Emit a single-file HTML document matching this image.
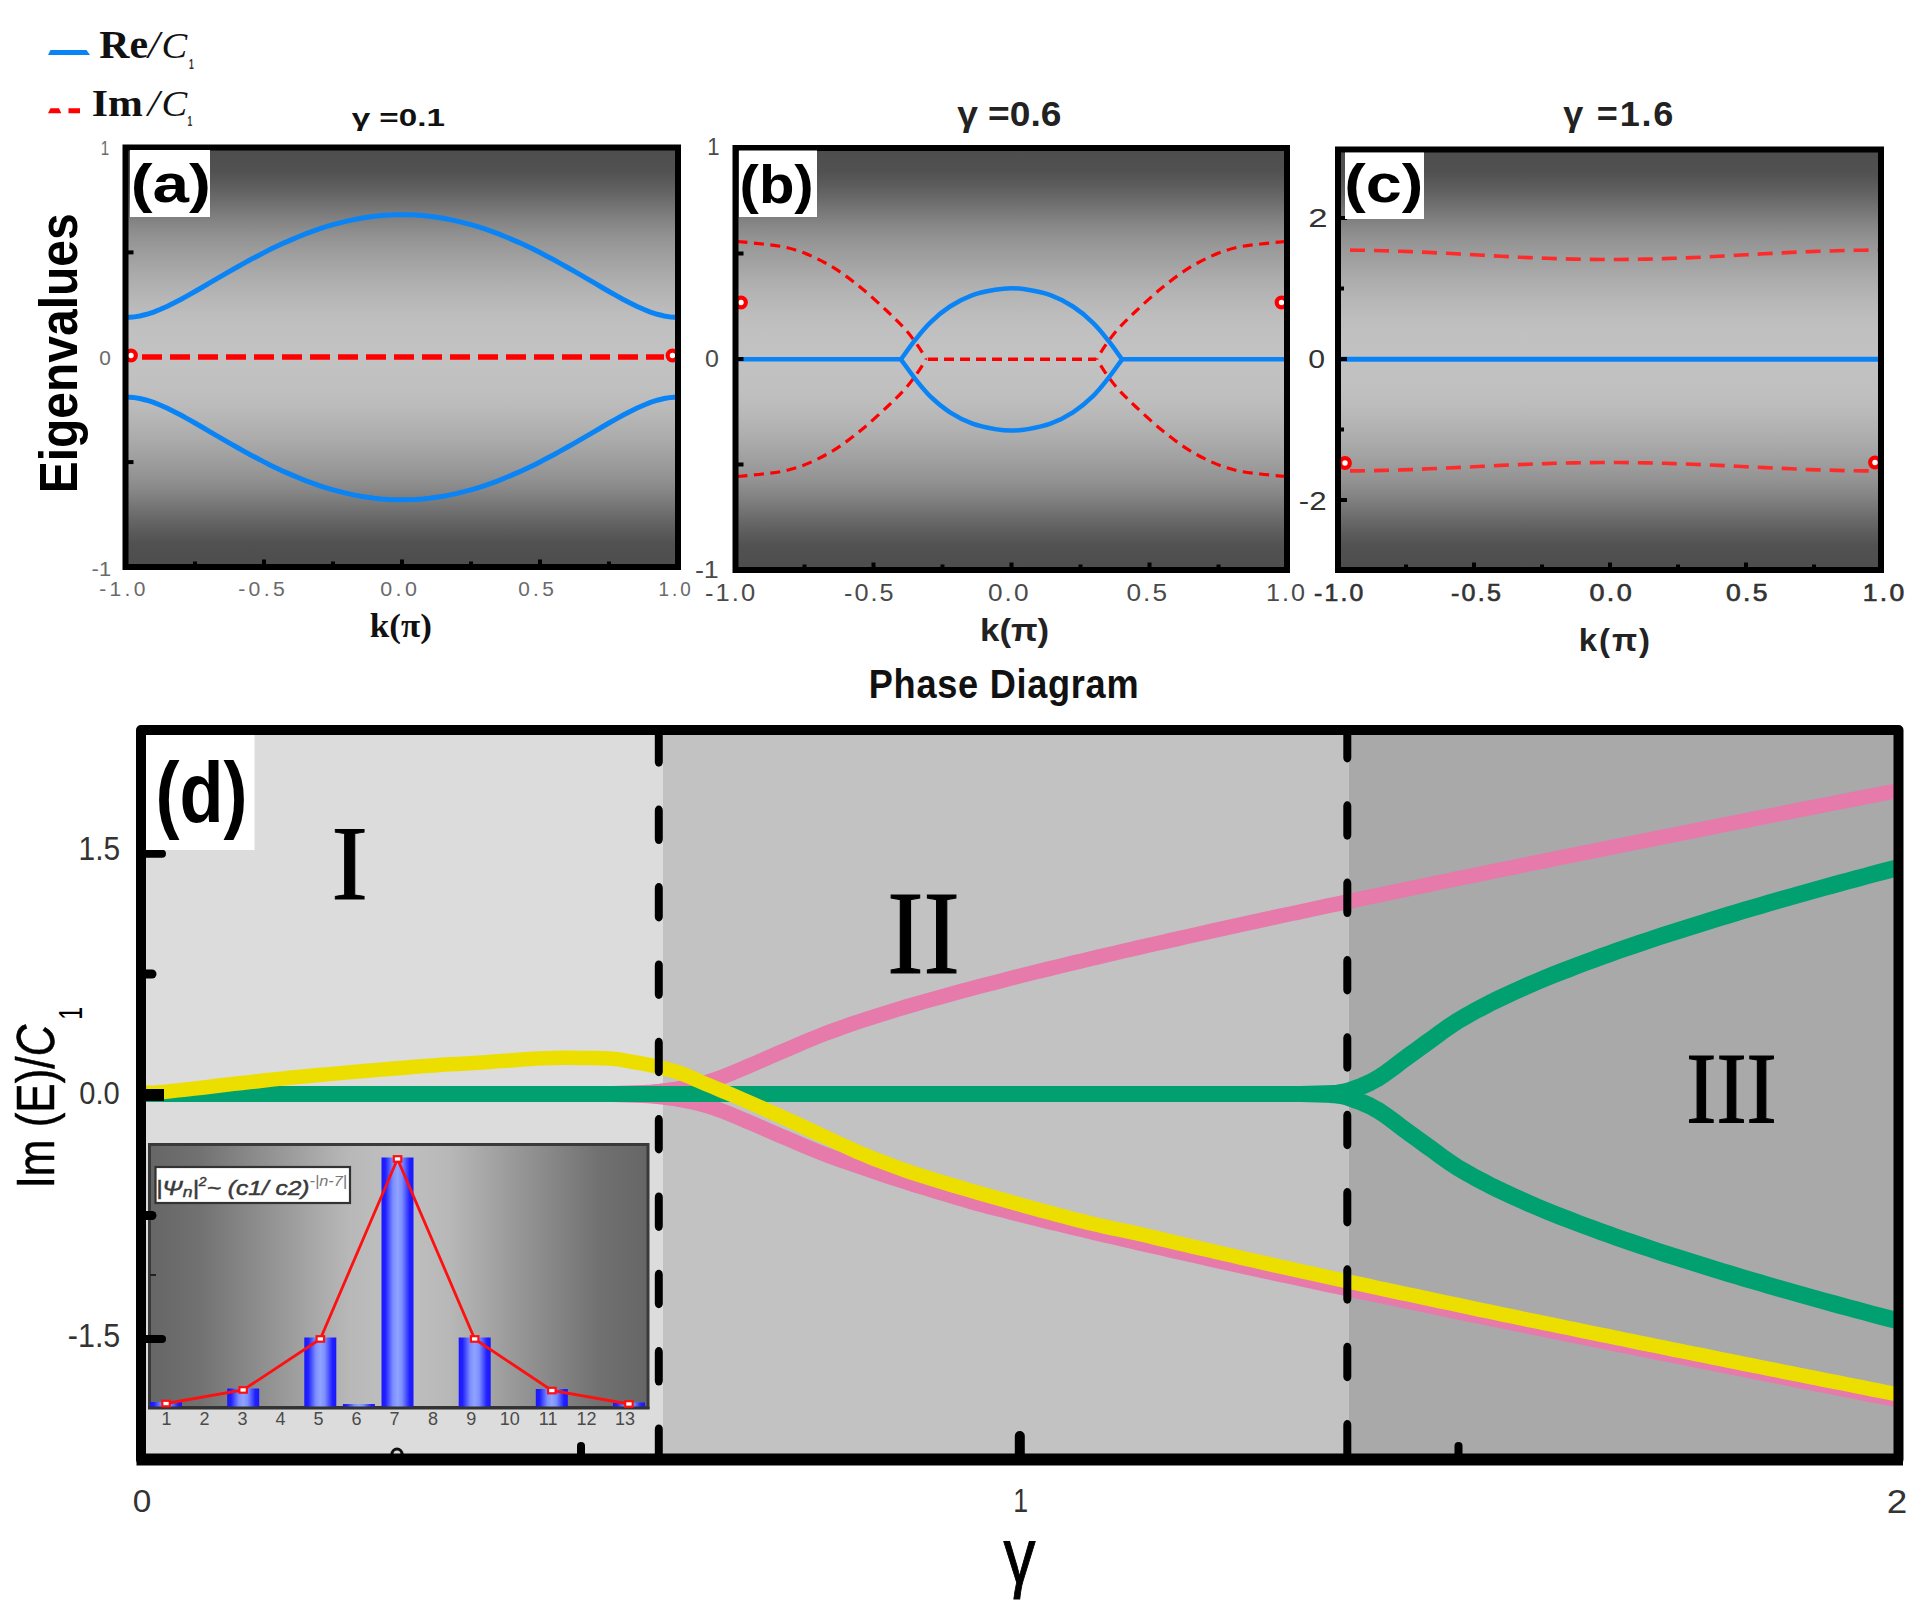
<!DOCTYPE html>
<html lang="en"><head><meta charset="utf-8"><title>Eigenvalues and Phase Diagram</title>
<style>html,body{margin:0;padding:0;background:#fff;}body{width:1928px;height:1615px;overflow:hidden;}svg{display:block;}</style></head><body>
<svg width="1928" height="1615" viewBox="0 0 1928 1615">
<defs>
<linearGradient id="gv" x1="0" y1="0" x2="0" y2="1"><stop offset="0" stop-color="#4d4d4d"/><stop offset="0.056" stop-color="#515151"/><stop offset="0.0875" stop-color="#5c5c5c"/><stop offset="0.1186" stop-color="#696969"/><stop offset="0.15" stop-color="#787878"/><stop offset="0.181" stop-color="#868686"/><stop offset="0.212" stop-color="#929292"/><stop offset="0.243" stop-color="#9b9b9b"/><stop offset="0.274" stop-color="#a3a3a3"/><stop offset="0.305" stop-color="#ababab"/><stop offset="0.3366" stop-color="#b2b2b2"/><stop offset="0.368" stop-color="#b8b8b8"/><stop offset="0.399" stop-color="#bdbdbd"/><stop offset="0.43" stop-color="#c0c0c0"/><stop offset="0.461" stop-color="#c1c1c1"/><stop offset="0.5" stop-color="#c2c2c2"/><stop offset="0.539" stop-color="#c1c1c1"/><stop offset="0.57" stop-color="#c0c0c0"/><stop offset="0.601" stop-color="#bdbdbd"/><stop offset="0.632" stop-color="#b8b8b8"/><stop offset="0.6634" stop-color="#b2b2b2"/><stop offset="0.695" stop-color="#ababab"/><stop offset="0.726" stop-color="#a3a3a3"/><stop offset="0.757" stop-color="#9b9b9b"/><stop offset="0.788" stop-color="#929292"/><stop offset="0.819" stop-color="#868686"/><stop offset="0.85" stop-color="#787878"/><stop offset="0.8814" stop-color="#696969"/><stop offset="0.9125" stop-color="#5c5c5c"/><stop offset="0.944" stop-color="#515151"/><stop offset="1" stop-color="#4d4d4d"/></linearGradient>
<linearGradient id="gh" x1="0" y1="0" x2="1" y2="0"><stop offset="0" stop-color="#666"/><stop offset="0.1" stop-color="#717171"/><stop offset="0.4" stop-color="#b8b8b8"/><stop offset="0.5" stop-color="#c0c0c0"/><stop offset="0.6" stop-color="#b8b8b8"/><stop offset="0.9" stop-color="#717171"/><stop offset="1" stop-color="#666"/></linearGradient>
<linearGradient id="gb" x1="0" y1="0" x2="1" y2="0"><stop offset="0" stop-color="#1818ff"/><stop offset="0.12" stop-color="#2020ff"/><stop offset="0.36" stop-color="#7c8fff"/><stop offset="0.5" stop-color="#90a3ff"/><stop offset="0.64" stop-color="#7c8fff"/><stop offset="0.88" stop-color="#2020ff"/><stop offset="1" stop-color="#1818ff"/></linearGradient>
</defs>
<rect width="1928" height="1615" fill="#fff"/>
<path d="M48 55 L50.5 50 H86.5 L90 55 Z" fill="#0a84f5"/>
<path d="M48 113.3 L50.5 108.3 H59 L61.3 113.3 Z M68.5 108.3 H80 V113.3 H68.5 Z" fill="#ff0000"/>
<text transform="translate(99.16 58.00) scale(1.0467 1)" font-family='"Liberation Serif", "Times New Roman", serif' font-size="40.00" font-weight="bold" font-style="normal" fill="#111" >Re<tspan font-style="italic" font-weight="normal">/</tspan><tspan font-style="italic" font-weight="normal" dx="0.05em" font-size="92%">C</tspan></text>
<text transform="translate(188.99 69.00) scale(0.5872 1)" font-family='"Liberation Sans", Arial, sans-serif' font-size="14.49" font-weight="bold" font-style="normal" fill="#333" >1</text>
<text transform="translate(91.75 116.11) scale(1.0822 1)" font-family='"Liberation Serif", "Times New Roman", serif' font-size="38.64" font-weight="bold" font-style="normal" fill="#111" >Im<tspan dx="0.12em" font-style="italic" font-weight="normal">/</tspan><tspan font-style="italic" font-weight="normal" dx="0.05em" font-size="92%">C</tspan></text>
<text transform="translate(187.49 126.00) scale(0.5872 1)" font-family='"Liberation Sans", Arial, sans-serif' font-size="14.49" font-weight="bold" font-style="normal" fill="#333" >1</text>
<g>
<rect x="125.5" y="147.5" width="552.5" height="419.5" fill="url(#gv)"/>
<path d="M126 317.5 L132.9 317.1 L139.8 316 L146.7 314.3 L153.6 312.1 L160.5 309.3 L167.4 306.2 L174.3 302.8 L181.2 299.2 L188.1 295.4 L195 291.5 L201.9 287.5 L208.8 283.4 L215.7 279.4 L222.6 275.4 L229.5 271.4 L236.4 267.5 L243.3 263.6 L250.2 259.8 L257.1 256.2 L264 252.6 L270.9 249.1 L277.8 245.8 L284.7 242.6 L291.6 239.6 L298.5 236.7 L305.4 233.9 L312.3 231.3 L319.2 228.9 L326.1 226.7 L333 224.7 L339.9 222.8 L346.8 221.1 L353.7 219.6 L360.6 218.3 L367.5 217.2 L374.4 216.3 L381.3 215.6 L388.2 215.1 L395.1 214.8 L402 214.7 L408.9 214.8 L415.8 215.1 L422.7 215.6 L429.6 216.3 L436.5 217.2 L443.4 218.3 L450.3 219.6 L457.2 221.1 L464.1 222.8 L471 224.7 L477.9 226.7 L484.8 228.9 L491.7 231.3 L498.6 233.9 L505.5 236.7 L512.4 239.6 L519.3 242.6 L526.2 245.8 L533.1 249.1 L540 252.6 L546.9 256.2 L553.8 259.8 L560.7 263.6 L567.6 267.5 L574.5 271.4 L581.4 275.4 L588.3 279.4 L595.2 283.4 L602.1 287.5 L609 291.5 L615.9 295.4 L622.8 299.2 L629.7 302.8 L636.6 306.2 L643.5 309.3 L650.4 312.1 L657.3 314.3 L664.2 316 L671.1 317.1 L678 317.5" fill="none" stroke="#0a84f5" stroke-width="5"/>
<path d="M126 397 L132.9 397.4 L139.8 398.5 L146.7 400.2 L153.6 402.4 L160.5 405.2 L167.4 408.3 L174.3 411.7 L181.2 415.3 L188.1 419.1 L195 423 L201.9 427 L208.8 431.1 L215.7 435.1 L222.6 439.1 L229.5 443.1 L236.4 447 L243.3 450.9 L250.2 454.7 L257.1 458.3 L264 461.9 L270.9 465.4 L277.8 468.7 L284.7 471.9 L291.6 474.9 L298.5 477.8 L305.4 480.6 L312.3 483.2 L319.2 485.6 L326.1 487.8 L333 489.8 L339.9 491.7 L346.8 493.4 L353.7 494.9 L360.6 496.2 L367.5 497.3 L374.4 498.2 L381.3 498.9 L388.2 499.4 L395.1 499.7 L402 499.8 L408.9 499.7 L415.8 499.4 L422.7 498.9 L429.6 498.2 L436.5 497.3 L443.4 496.2 L450.3 494.9 L457.2 493.4 L464.1 491.7 L471 489.8 L477.9 487.8 L484.8 485.6 L491.7 483.2 L498.6 480.6 L505.5 477.8 L512.4 474.9 L519.3 471.9 L526.2 468.7 L533.1 465.4 L540 461.9 L546.9 458.3 L553.8 454.7 L560.7 450.9 L567.6 447 L574.5 443.1 L581.4 439.1 L588.3 435.1 L595.2 431.1 L602.1 427 L609 423 L615.9 419.1 L622.8 415.3 L629.7 411.7 L636.6 408.3 L643.5 405.2 L650.4 402.4 L657.3 400.2 L664.2 398.5 L671.1 397.4 L678 397" fill="none" stroke="#0a84f5" stroke-width="5"/>
<line x1="142" y1="357" x2="664" y2="357" stroke="#ff0000" stroke-width="5.5" stroke-dasharray="20 8"/>
<circle cx="131" cy="355.5" r="4.8" fill="#fff" stroke="#ff0000" stroke-width="4.2"/>
<circle cx="672.5" cy="355.5" r="4.8" fill="#fff" stroke="#ff0000" stroke-width="4.2"/>
<line x1="195" y1="567" x2="195" y2="561.5" stroke="#000" stroke-width="4"/>
<line x1="264" y1="567" x2="264" y2="559.5" stroke="#000" stroke-width="4"/>
<line x1="333" y1="567" x2="333" y2="561.5" stroke="#000" stroke-width="4"/>
<line x1="402" y1="567" x2="402" y2="559.5" stroke="#000" stroke-width="4"/>
<line x1="471" y1="567" x2="471" y2="561.5" stroke="#000" stroke-width="4"/>
<line x1="540" y1="567" x2="540" y2="559.5" stroke="#000" stroke-width="4"/>
<line x1="609" y1="567" x2="609" y2="561.5" stroke="#000" stroke-width="4"/>
<line x1="125.5" y1="462.1" x2="133.5" y2="462.1" stroke="#000" stroke-width="4"/>
<line x1="125.5" y1="252.4" x2="133.5" y2="252.4" stroke="#000" stroke-width="4"/>
<rect x="125.5" y="147.5" width="552.5" height="419.5" fill="none" stroke="#000" stroke-width="6"/>
<rect x="130" y="150" width="80" height="67" fill="#fff"/>
<text transform="translate(130.72 202.11) scale(1.2096 1)" font-family='"Liberation Sans", Arial, sans-serif' font-size="54.26" font-weight="bold" font-style="normal" fill="#000" >(a)</text>
</g>
<text transform="translate(100.79 155.00) scale(0.7450 1)" font-family='"Liberation Sans", Arial, sans-serif' font-size="20.29" font-weight="normal" font-style="normal" fill="#6a6a6a" >1</text>
<text transform="translate(99.17 364.80) scale(1.0565 1)" font-family='"Liberation Sans", Arial, sans-serif' font-size="19.72" font-weight="normal" font-style="normal" fill="#6a6a6a" >0</text>
<text transform="translate(91.62 575.50) scale(1.0781 1)" font-family='"Liberation Sans", Arial, sans-serif' font-size="20.29" font-weight="normal" font-style="normal" fill="#6a6a6a" >-1</text>
<text transform="translate(99.16 595.80) scale(1.0278 1)" font-family='"Liberation Sans", Arial, sans-serif' font-size="20.42" font-weight="normal" font-style="normal" fill="#6a6a6a" letter-spacing="0.16em">-1.0</text>
<text transform="translate(238.15 595.80) scale(1.0394 1)" font-family='"Liberation Sans", Arial, sans-serif' font-size="20.42" font-weight="normal" font-style="normal" fill="#6a6a6a" letter-spacing="0.16em">-0.5</text>
<text transform="translate(380.14 595.80) scale(1.0514 1)" font-family='"Liberation Sans", Arial, sans-serif' font-size="20.42" font-weight="normal" font-style="normal" fill="#6a6a6a" letter-spacing="0.16em">0.0</text>
<text transform="translate(518.17 595.80) scale(1.0214 1)" font-family='"Liberation Sans", Arial, sans-serif' font-size="20.42" font-weight="normal" font-style="normal" fill="#6a6a6a" letter-spacing="0.16em">0.5</text>
<text transform="translate(658.49 595.80) scale(0.9239 1)" font-family='"Liberation Sans", Arial, sans-serif' font-size="20.42" font-weight="normal" font-style="normal" fill="#6a6a6a" letter-spacing="0.16em">1.0</text>
<text transform="translate(351.67 125.77) scale(1.4292 1)" font-family='"Liberation Sans", Arial, sans-serif' font-size="23.24" font-weight="bold" font-style="normal" fill="#111" >γ =0.1</text>
<text transform="translate(369.80 637.00) scale(1.0302 1)" font-family='"Liberation Serif", "Times New Roman", serif' font-size="34.06" font-weight="bold" font-style="normal" fill="#111" >k(π)</text>
<text transform="translate(76.50 493.36) rotate(-90) scale(0.9073 1)" font-family='"Liberation Sans", Arial, sans-serif' font-size="52.90" font-weight="bold" font-style="normal" fill="#000" >Eigenvalues</text>
<g>
<rect x="735.5" y="148" width="551.5" height="422" fill="url(#gv)"/>
<path d="M737.5 241.5 C741.7 241.9 754.2 243 762.5 244 C770.8 245 779.2 245.7 787.5 247.8 C795.8 249.8 804.2 252.8 812.5 256.5 C820.8 260.2 829.2 264.8 837.5 270.2 C845.8 275.7 854.2 282.1 862.5 289 C870.8 295.9 880.4 304.8 887.5 311.5 C894.6 318.2 900 323.4 905 329 C910 334.6 914 340.2 917.5 345.2 C921 350.2 924.8 356.7 926.2 359" fill="none" stroke="#ff0000" stroke-width="3.2" stroke-dasharray="10 6.5"/>
<path d="M737.5 476.5 C741.7 476.1 754.2 475 762.5 474 C770.8 473 779.2 472.3 787.5 470.2 C795.8 468.2 804.2 465.2 812.5 461.5 C820.8 457.8 829.2 453.2 837.5 447.8 C845.8 442.3 854.2 435.9 862.5 429 C870.8 422.1 880.4 413.2 887.5 406.5 C894.6 399.8 900 394.6 905 389 C910 383.4 914 377.8 917.5 372.8 C921 367.8 924.8 361.3 926.2 359" fill="none" stroke="#ff0000" stroke-width="3.2" stroke-dasharray="10 6.5"/>
<path d="M1285.5 241.5 C1281.3 241.9 1268.8 243 1260.5 244 C1252.2 245 1243.8 245.7 1235.5 247.8 C1227.2 249.8 1218.8 252.8 1210.5 256.5 C1202.2 260.2 1193.8 264.8 1185.5 270.2 C1177.2 275.7 1168.8 282.1 1160.5 289 C1152.2 295.9 1142.6 304.8 1135.5 311.5 C1128.4 318.2 1123 323.4 1118 329 C1113 334.6 1109 340.2 1105.5 345.2 C1102 350.2 1098.2 356.7 1096.8 359" fill="none" stroke="#ff0000" stroke-width="3.2" stroke-dasharray="10 6.5"/>
<path d="M1285.5 476.5 C1281.3 476.1 1268.8 475 1260.5 474 C1252.2 473 1243.8 472.3 1235.5 470.2 C1227.2 468.2 1218.8 465.2 1210.5 461.5 C1202.2 457.8 1193.8 453.2 1185.5 447.8 C1177.2 442.3 1168.8 435.9 1160.5 429 C1152.2 422.1 1142.6 413.2 1135.5 406.5 C1128.4 399.8 1123 394.6 1118 389 C1113 383.4 1109 377.8 1105.5 372.8 C1102 367.8 1098.2 361.3 1096.8 359" fill="none" stroke="#ff0000" stroke-width="3.2" stroke-dasharray="10 6.5"/>
<line x1="928" y1="359.3" x2="1096" y2="359.3" stroke="#ff0000" stroke-width="3.6" stroke-dasharray="10 6"/>
<path d="M735.5 359.3 L902 359.3" stroke="#0a84f5" stroke-width="4.5" fill="none"/>
<path d="M1121 359.3 L1287 359.3" stroke="#0a84f5" stroke-width="4.5" fill="none"/>
<path d="M901.2 359 C903.5 355.9 910.2 346.3 915 340.2 C919.8 334.2 924.2 328.4 930 322.8 C935.8 317.1 942.9 311.1 950 306.5 C957.1 301.9 965 298 972.5 295.2 C980 292.5 988.5 290.9 995 289.8 C1001.5 288.6 1006 288.2 1011.5 288.2 C1017 288.2 1021.5 288.6 1028 289.8 C1034.5 290.9 1043 292.5 1050.5 295.2 C1058 298 1065.9 301.9 1073 306.5 C1080.1 311.1 1087.2 317.1 1093 322.8 C1098.8 328.4 1103.2 334.2 1108 340.2 C1112.8 346.3 1119.5 355.9 1121.8 359" fill="none" stroke="#0a84f5" stroke-width="4.5" stroke-linejoin="round"/>
<path d="M901.2 359.8 C903.5 362.9 910.2 372.5 915 378.6 C919.8 384.6 924.2 390.4 930 396.1 C935.8 401.7 942.9 407.7 950 412.3 C957.1 416.9 965 420.8 972.5 423.6 C980 426.3 988.5 427.9 995 429.1 C1001.5 430.2 1006 430.6 1011.5 430.6 C1017 430.6 1021.5 430.2 1028 429.1 C1034.5 427.9 1043 426.3 1050.5 423.6 C1058 420.8 1065.9 416.9 1073 412.3 C1080.1 407.7 1087.2 401.7 1093 396.1 C1098.8 390.4 1103.2 384.6 1108 378.6 C1112.8 372.5 1119.5 362.9 1121.8 359.8" fill="none" stroke="#0a84f5" stroke-width="4.5" stroke-linejoin="round"/>
<circle cx="741" cy="302.5" r="4.8" fill="#fff" stroke="#ff0000" stroke-width="4.2"/>
<circle cx="1281.5" cy="302.5" r="4.8" fill="#fff" stroke="#ff0000" stroke-width="4.2"/>
<line x1="804.5" y1="570" x2="804.5" y2="564.5" stroke="#000" stroke-width="4"/>
<line x1="873.5" y1="570" x2="873.5" y2="562.5" stroke="#000" stroke-width="4"/>
<line x1="942.5" y1="570" x2="942.5" y2="564.5" stroke="#000" stroke-width="4"/>
<line x1="1011.5" y1="570" x2="1011.5" y2="562.5" stroke="#000" stroke-width="4"/>
<line x1="1080.5" y1="570" x2="1080.5" y2="564.5" stroke="#000" stroke-width="4"/>
<line x1="1149.5" y1="570" x2="1149.5" y2="562.5" stroke="#000" stroke-width="4"/>
<line x1="1218.5" y1="570" x2="1218.5" y2="564.5" stroke="#000" stroke-width="4"/>
<line x1="735.5" y1="464.5" x2="743.5" y2="464.5" stroke="#000" stroke-width="4"/>
<line x1="735.5" y1="359" x2="743.5" y2="359" stroke="#000" stroke-width="4"/>
<line x1="735.5" y1="253.5" x2="743.5" y2="253.5" stroke="#000" stroke-width="4"/>
<rect x="735.5" y="148" width="551.5" height="422" fill="none" stroke="#000" stroke-width="6"/>
<rect x="739" y="150.5" width="78" height="66.5" fill="#fff"/>
<text transform="translate(739.60 202.58) scale(1.0914 1)" font-family='"Liberation Sans", Arial, sans-serif' font-size="53.19" font-weight="bold" font-style="normal" fill="#000" >(b)</text>
</g>
<text transform="translate(707.23 155.00) scale(0.9528 1)" font-family='"Liberation Sans", Arial, sans-serif' font-size="23.19" font-weight="normal" font-style="normal" fill="#4a4a4a" >1</text>
<text transform="translate(705.00 367.27) scale(1.0758 1)" font-family='"Liberation Sans", Arial, sans-serif' font-size="23.24" font-weight="normal" font-style="normal" fill="#4a4a4a" >0</text>
<text transform="translate(694.92 577.50) scale(1.1239 1)" font-family='"Liberation Sans", Arial, sans-serif' font-size="23.91" font-weight="normal" font-style="normal" fill="#4a4a4a" >-1</text>
<text transform="translate(704.98 600.76) scale(1.0663 1)" font-family='"Liberation Sans", Arial, sans-serif' font-size="23.94" font-weight="normal" font-style="normal" fill="#4a4a4a" letter-spacing="0.08em">-1.0</text>
<text transform="translate(843.99 600.76) scale(1.0552 1)" font-family='"Liberation Sans", Arial, sans-serif' font-size="23.94" font-weight="normal" font-style="normal" fill="#4a4a4a" letter-spacing="0.08em">-0.5</text>
<text transform="translate(987.95 600.76) scale(1.0938 1)" font-family='"Liberation Sans", Arial, sans-serif' font-size="23.94" font-weight="normal" font-style="normal" fill="#4a4a4a" letter-spacing="0.08em">0.0</text>
<text transform="translate(1126.45 600.76) scale(1.0938 1)" font-family='"Liberation Sans", Arial, sans-serif' font-size="23.94" font-weight="normal" font-style="normal" fill="#4a4a4a" letter-spacing="0.08em">0.5</text>
<text transform="translate(1265.99 600.76) scale(1.0514 1)" font-family='"Liberation Sans", Arial, sans-serif' font-size="23.94" font-weight="normal" font-style="normal" fill="#4a4a4a" letter-spacing="0.08em">1.0</text>
<text transform="translate(957.13 126.15) scale(1.0547 1)" font-family='"Liberation Sans", Arial, sans-serif' font-size="35.21" font-weight="bold" font-style="normal" fill="#222" >γ =0.6</text>
<text transform="translate(980.07 641.00) scale(1.0798 1)" font-family='"Liberation Sans", Arial, sans-serif' font-size="32.19" font-weight="bold" font-style="normal" fill="#222" >k(π)</text>
<g>
<rect x="1338" y="149.5" width="543" height="420.5" fill="url(#gv)"/>
<path d="M1338 250.1 L1347.1 250.1 L1356.1 250.2 L1365.2 250.3 L1374.3 250.5 L1383.3 250.7 L1392.4 251 L1401.5 251.3 L1410.5 251.6 L1419.6 252 L1428.7 252.4 L1437.7 252.9 L1446.8 253.3 L1455.9 253.8 L1464.9 254.3 L1474 254.8 L1483.1 255.3 L1492.1 255.8 L1501.2 256.3 L1510.3 256.7 L1519.3 257.2 L1528.4 257.6 L1537.5 258 L1546.5 258.3 L1555.6 258.6 L1564.7 258.9 L1573.7 259.1 L1582.8 259.3 L1591.9 259.4 L1600.9 259.5 L1610 259.5 L1619.1 259.5 L1628.1 259.4 L1637.2 259.3 L1646.3 259.1 L1655.3 258.9 L1664.4 258.6 L1673.5 258.3 L1682.5 258 L1691.6 257.6 L1700.7 257.2 L1709.7 256.7 L1718.8 256.3 L1727.9 255.8 L1736.9 255.3 L1746 254.8 L1755.1 254.3 L1764.1 253.8 L1773.2 253.3 L1782.3 252.9 L1791.3 252.4 L1800.4 252 L1809.5 251.6 L1818.5 251.3 L1827.6 251 L1836.7 250.7 L1845.7 250.5 L1854.8 250.3 L1863.9 250.2 L1872.9 250.1 L1882 250.1" fill="none" stroke="#ff2a2a" stroke-width="3.6" stroke-dasharray="15 9" stroke-dashoffset="-12"/>
<path d="M1338 471 L1347.1 470.9 L1356.1 470.9 L1365.2 470.7 L1374.3 470.6 L1383.3 470.4 L1392.4 470.1 L1401.5 469.9 L1410.5 469.6 L1419.6 469.2 L1428.7 468.8 L1437.7 468.4 L1446.8 468 L1455.9 467.6 L1464.9 467.2 L1474 466.7 L1483.1 466.3 L1492.1 465.8 L1501.2 465.4 L1510.3 465 L1519.3 464.6 L1528.4 464.2 L1537.5 463.9 L1546.5 463.6 L1555.6 463.3 L1564.7 463.1 L1573.7 462.9 L1582.8 462.7 L1591.9 462.6 L1600.9 462.5 L1610 462.5 L1619.1 462.5 L1628.1 462.6 L1637.2 462.7 L1646.3 462.9 L1655.3 463.1 L1664.4 463.3 L1673.5 463.6 L1682.5 463.9 L1691.6 464.2 L1700.7 464.6 L1709.7 465 L1718.8 465.4 L1727.9 465.8 L1736.9 466.3 L1746 466.7 L1755.1 467.2 L1764.1 467.6 L1773.2 468 L1782.3 468.4 L1791.3 468.8 L1800.4 469.2 L1809.5 469.6 L1818.5 469.9 L1827.6 470.1 L1836.7 470.4 L1845.7 470.6 L1854.8 470.7 L1863.9 470.9 L1872.9 470.9 L1882 471" fill="none" stroke="#ff2a2a" stroke-width="3.6" stroke-dasharray="15 9" stroke-dashoffset="-12"/>
<line x1="1338" y1="359.3" x2="1881" y2="359.3" stroke="#0a84f5" stroke-width="5"/>
<circle cx="1345" cy="463" r="4.8" fill="#fff" stroke="#ff0000" stroke-width="4.2"/>
<circle cx="1875" cy="462.5" r="4.8" fill="#fff" stroke="#ff0000" stroke-width="4.2"/>
<line x1="1406" y1="570" x2="1406" y2="564.5" stroke="#000" stroke-width="4"/>
<line x1="1474" y1="570" x2="1474" y2="562.5" stroke="#000" stroke-width="4"/>
<line x1="1542" y1="570" x2="1542" y2="564.5" stroke="#000" stroke-width="4"/>
<line x1="1610" y1="570" x2="1610" y2="562.5" stroke="#000" stroke-width="4"/>
<line x1="1678" y1="570" x2="1678" y2="564.5" stroke="#000" stroke-width="4"/>
<line x1="1746" y1="570" x2="1746" y2="562.5" stroke="#000" stroke-width="4"/>
<line x1="1814" y1="570" x2="1814" y2="564.5" stroke="#000" stroke-width="4"/>
<line x1="1338" y1="500" x2="1347" y2="500" stroke="#000" stroke-width="4"/>
<line x1="1338" y1="429.5" x2="1344" y2="429.5" stroke="#000" stroke-width="4"/>
<line x1="1338" y1="359" x2="1347" y2="359" stroke="#000" stroke-width="4"/>
<line x1="1338" y1="288.5" x2="1344" y2="288.5" stroke="#000" stroke-width="4"/>
<line x1="1338" y1="218" x2="1347" y2="218" stroke="#000" stroke-width="4"/>
<rect x="1338" y="149.5" width="543" height="420.5" fill="none" stroke="#000" stroke-width="6"/>
<rect x="1345" y="152.5" width="79" height="66.5" fill="#fff"/>
<text transform="translate(1344.26 201.72) scale(1.2049 1)" font-family='"Liberation Sans", Arial, sans-serif' font-size="53.72" font-weight="bold" font-style="normal" fill="#000" >(c)</text>
</g>
<text transform="translate(1308.26 227.00) scale(1.3527 1)" font-family='"Liberation Sans", Arial, sans-serif' font-size="25.71" font-weight="normal" font-style="normal" fill="#333" >2</text>
<text transform="translate(1308.29 367.75) scale(1.1916 1)" font-family='"Liberation Sans", Arial, sans-serif' font-size="25.35" font-weight="normal" font-style="normal" fill="#333" >0</text>
<text transform="translate(1298.75 509.50) scale(1.2153 1)" font-family='"Liberation Sans", Arial, sans-serif' font-size="25.71" font-weight="normal" font-style="normal" fill="#333" >-2</text>
<text transform="translate(1314.01 600.76) scale(1.0332 1)" font-family='"Liberation Sans", Arial, sans-serif' font-size="23.94" font-weight="normal" font-style="normal" fill="#333" letter-spacing="0.09em" stroke="#333" stroke-width="0.65">-1.0</text>
<text transform="translate(1451.00 600.76) scale(1.0441 1)" font-family='"Liberation Sans", Arial, sans-serif' font-size="23.94" font-weight="normal" font-style="normal" fill="#333" letter-spacing="0.09em" stroke="#333" stroke-width="0.65">-0.5</text>
<text transform="translate(1589.42 600.76) scale(1.1276 1)" font-family='"Liberation Sans", Arial, sans-serif' font-size="23.94" font-weight="normal" font-style="normal" fill="#333" letter-spacing="0.09em" stroke="#333" stroke-width="0.65">0.0</text>
<text transform="translate(1725.94 600.76) scale(1.1072 1)" font-family='"Liberation Sans", Arial, sans-serif' font-size="23.94" font-weight="normal" font-style="normal" fill="#333" letter-spacing="0.09em" stroke="#333" stroke-width="0.65">0.5</text>
<text transform="translate(1862.64 600.76) scale(1.1080 1)" font-family='"Liberation Sans", Arial, sans-serif' font-size="23.94" font-weight="normal" font-style="normal" fill="#333" letter-spacing="0.09em" stroke="#333" stroke-width="0.65">1.0</text>
<text transform="translate(1563.14 126.00) scale(1.0363 1)" font-family='"Liberation Sans", Arial, sans-serif' font-size="34.78" font-weight="bold" font-style="normal" fill="#222" letter-spacing="0.05em">γ =1.6</text>
<text transform="translate(1578.70 651.00) scale(1.0228 1)" font-family='"Liberation Sans", Arial, sans-serif' font-size="32.19" font-weight="bold" font-style="normal" fill="#222" letter-spacing="0.06em">k(π)</text>
<text transform="translate(868.77 697.89) scale(0.8881 1)" font-family='"Liberation Sans", Arial, sans-serif' font-size="40.71" font-weight="bold" font-style="normal" fill="#111" letter-spacing="0.02em">Phase Diagram</text>
<g>
<rect x="143" y="732" width="520" height="725" fill="#dcdcdc"/>
<rect x="663" y="732" width="685.5" height="725" fill="#c2c2c2"/>
<rect x="1348.5" y="732" width="548" height="725" fill="#a9a9a9"/>
<path d="M596 1094 L604 1093.8 L612 1093.5 L619.9 1093.3 L627.9 1093.1 L635.9 1092.8 L643.9 1092.4 L651.8 1091.9 L659.8 1091.2 L667.8 1090.3 L675.8 1089.2 L683.7 1087.7 L691.7 1086.1 L699.7 1084.2 L707.7 1081.9 L715.6 1079.4 L723.6 1076.5 L731.6 1073.3 L739.6 1069.9 L747.5 1066.5 L755.5 1063.1 L763.5 1059.6 L771.5 1056.2 L779.4 1052.7 L787.4 1049.3 L795.4 1045.8 L803.4 1042.4 L811.3 1039.1 L819.3 1035.9 L827.3 1032.8 L835.3 1029.9 L843.2 1027 L851.2 1024.2 L859.2 1021.5 L867.2 1018.9 L875.1 1016.3 L883.1 1013.8 L891.1 1011.3 L899.1 1008.9 L907 1006.5 L915 1004.2 L923 1001.9 L931 999.6 L938.9 997.4 L946.9 995.2 L954.9 993 L962.9 990.8 L970.8 988.7 L978.8 986.6 L986.8 984.5 L994.8 982.4 L1002.7 980.4 L1010.7 978.3 L1018.7 976.3 L1026.7 974.3 L1034.7 972.3 L1042.6 970.4 L1050.6 968.4 L1058.6 966.5 L1066.6 964.5 L1074.5 962.6 L1082.5 960.7 L1090.5 958.8 L1098.5 956.9 L1106.4 955 L1114.4 953.2 L1122.4 951.3 L1130.4 949.5 L1138.3 947.6 L1146.3 945.8 L1154.3 944 L1162.3 942.2 L1170.2 940.4 L1178.2 938.6 L1186.2 936.8 L1194.2 935 L1202.1 933.2 L1210.1 931.4 L1218.1 929.7 L1226.1 927.9 L1234 926.1 L1242 924.4 L1250 922.6 L1258 920.9 L1265.9 919.2 L1273.9 917.4 L1281.9 915.7 L1289.9 914 L1297.8 912.3 L1305.8 910.6 L1313.8 908.9 L1321.8 907.1 L1329.7 905.4 L1337.7 903.8 L1345.7 902.1 L1353.7 900.4 L1361.6 898.7 L1369.6 897 L1377.6 895.3 L1385.6 893.7 L1393.5 892 L1401.5 890.3 L1409.5 888.7 L1417.5 887 L1425.4 885.3 L1433.4 883.7 L1441.4 882 L1449.4 880.4 L1457.3 878.7 L1465.3 877.1 L1473.3 875.4 L1481.3 873.8 L1489.3 872.2 L1497.2 870.5 L1505.2 868.9 L1513.2 867.3 L1521.2 865.6 L1529.1 864 L1537.1 862.4 L1545.1 860.8 L1553.1 859.1 L1561 857.5 L1569 855.9 L1577 854.3 L1585 852.7 L1592.9 851.1 L1600.9 849.5 L1608.9 847.8 L1616.9 846.2 L1624.8 844.6 L1632.8 843 L1640.8 841.4 L1648.8 839.8 L1656.7 838.2 L1664.7 836.7 L1672.7 835.1 L1680.7 833.5 L1688.6 831.9 L1696.6 830.3 L1704.6 828.7 L1712.6 827.1 L1720.5 825.5 L1728.5 823.9 L1736.5 822.4 L1744.5 820.8 L1752.4 819.2 L1760.4 817.6 L1768.4 816 L1776.4 814.5 L1784.3 812.9 L1792.3 811.3 L1800.3 809.7 L1808.3 808.2 L1816.2 806.6 L1824.2 805 L1832.2 803.5 L1840.2 801.9 L1848.1 800.3 L1856.1 798.8 L1864.1 797.2 L1872.1 795.6 L1880 794.1 L1888 792.5 L1896 791" fill="none" stroke="#e57aab" stroke-width="15" stroke-linejoin="round"/>
<path d="M596 1094 L604 1094.2 L612 1094.5 L619.9 1094.7 L627.9 1094.9 L635.9 1095.2 L643.9 1095.6 L651.8 1096.1 L659.8 1096.8 L667.8 1097.7 L675.8 1098.8 L683.7 1100.3 L691.7 1101.9 L699.7 1103.8 L707.7 1106.1 L715.6 1108.6 L723.6 1111.5 L731.6 1114.7 L739.6 1118.1 L747.5 1121.5 L755.5 1124.9 L763.5 1128.4 L771.5 1131.8 L779.4 1135.3 L787.4 1138.7 L795.4 1142.2 L803.4 1145.6 L811.3 1148.9 L819.3 1152.1 L827.3 1155.2 L835.3 1158.1 L843.2 1161 L851.2 1163.7 L859.2 1166.5 L867.2 1169.2 L875.1 1172 L883.1 1174.7 L891.1 1177.3 L899.1 1179.9 L907 1182.5 L915 1185 L923 1187.4 L931 1189.9 L938.9 1192.3 L946.9 1194.6 L954.9 1197 L962.9 1199.4 L970.8 1201.7 L978.8 1203.9 L986.8 1206.1 L994.8 1208.1 L1002.7 1210.1 L1010.7 1212.2 L1018.7 1214.2 L1026.7 1216.2 L1034.7 1218.2 L1042.6 1220.1 L1050.6 1222.1 L1058.6 1224 L1066.6 1226 L1074.5 1227.9 L1082.5 1229.8 L1090.5 1231.7 L1098.5 1233.6 L1106.4 1235.5 L1114.4 1237.3 L1122.4 1239.2 L1130.4 1241 L1138.3 1242.9 L1146.3 1244.7 L1154.3 1246.5 L1162.3 1248.3 L1170.2 1250.1 L1178.2 1251.9 L1186.2 1253.7 L1194.2 1255.5 L1202.1 1257.3 L1210.1 1259.1 L1218.1 1260.8 L1226.1 1262.6 L1234 1264.4 L1242 1266.1 L1250 1267.9 L1258 1269.6 L1265.9 1271.3 L1273.9 1273.1 L1281.9 1274.8 L1289.9 1276.5 L1297.8 1278.2 L1305.8 1279.9 L1313.8 1281.6 L1321.8 1283.4 L1329.7 1285.1 L1337.7 1286.7 L1345.7 1288.4 L1353.7 1290.1 L1361.6 1291.8 L1369.6 1293.5 L1377.6 1295.2 L1385.6 1296.8 L1393.5 1298.5 L1401.5 1300.2 L1409.5 1301.8 L1417.5 1303.5 L1425.4 1305.2 L1433.4 1306.8 L1441.4 1308.5 L1449.4 1310.1 L1457.3 1311.8 L1465.3 1313.4 L1473.3 1315.1 L1481.3 1316.7 L1489.3 1318.3 L1497.2 1320 L1505.2 1321.6 L1513.2 1323.2 L1521.2 1324.9 L1529.1 1326.5 L1537.1 1328.1 L1545.1 1329.7 L1553.1 1331.4 L1561 1333 L1569 1334.6 L1577 1336.2 L1585 1337.8 L1592.9 1339.4 L1600.9 1341 L1608.9 1342.7 L1616.9 1344.3 L1624.8 1345.9 L1632.8 1347.5 L1640.8 1349.1 L1648.8 1350.7 L1656.7 1352.3 L1664.7 1353.8 L1672.7 1355.4 L1680.7 1357 L1688.6 1358.6 L1696.6 1360.2 L1704.6 1361.8 L1712.6 1363.4 L1720.5 1365 L1728.5 1366.6 L1736.5 1368.1 L1744.5 1369.7 L1752.4 1371.3 L1760.4 1372.9 L1768.4 1374.5 L1776.4 1376 L1784.3 1377.6 L1792.3 1379.2 L1800.3 1380.8 L1808.3 1382.3 L1816.2 1383.9 L1824.2 1385.5 L1832.2 1387 L1840.2 1388.6 L1848.1 1390.2 L1856.1 1391.7 L1864.1 1393.3 L1872.1 1394.9 L1880 1396.4 L1888 1398 L1896 1399.5" fill="none" stroke="#e57aab" stroke-width="15" stroke-linejoin="round"/>
<rect x="146" y="1086" width="1206" height="16" fill="#00a070"/>
<path d="M1300 1086 L1335 1085 L1352 1082 L1352 1106 L1335 1103 L1300 1102 Z" fill="#00a070"/>
<path d="M1330 1094.1 L1338 1093.5 L1345.9 1092 L1353.9 1089.1 L1361.9 1086.1 L1369.9 1082.6 L1377.8 1078.3 L1385.8 1073 L1393.8 1067.1 L1401.7 1061.1 L1409.7 1055.1 L1417.7 1049.3 L1425.7 1043.5 L1433.6 1037.8 L1441.6 1031.9 L1449.6 1026.3 L1457.5 1021 L1465.5 1016.3 L1473.5 1011.8 L1481.5 1007.6 L1489.4 1003.4 L1497.4 999.5 L1505.4 995.7 L1513.4 992 L1521.3 988.4 L1529.3 984.9 L1537.3 981.5 L1545.2 978.2 L1553.2 974.9 L1561.2 971.8 L1569.2 968.7 L1577.1 965.6 L1585.1 962.6 L1593.1 959.7 L1601 956.8 L1609 953.9 L1617 951.1 L1625 948.3 L1632.9 945.6 L1640.9 942.9 L1648.9 940.2 L1656.8 937.5 L1664.8 934.9 L1672.8 932.4 L1680.8 929.8 L1688.7 927.3 L1696.7 924.8 L1704.7 922.3 L1712.6 919.8 L1720.6 917.4 L1728.6 915 L1736.6 912.6 L1744.5 910.2 L1752.5 907.9 L1760.5 905.6 L1768.5 903.2 L1776.4 900.9 L1784.4 898.6 L1792.4 896.4 L1800.3 894.1 L1808.3 891.9 L1816.3 889.6 L1824.3 887.4 L1832.2 885.2 L1840.2 883 L1848.2 880.9 L1856.1 878.7 L1864.1 876.6 L1872.1 874.4 L1880.1 872.3 L1888 870.2 L1896 868.1" fill="none" stroke="#00a070" stroke-width="17" stroke-linejoin="round"/>
<path d="M1330 1094.4 L1338 1095 L1345.9 1096.5 L1353.9 1099.4 L1361.9 1102.4 L1369.9 1105.9 L1377.8 1110.2 L1385.8 1115.5 L1393.8 1121.4 L1401.7 1127.4 L1409.7 1133.4 L1417.7 1139.2 L1425.7 1145 L1433.6 1150.7 L1441.6 1156.6 L1449.6 1162.2 L1457.5 1167.5 L1465.5 1172.2 L1473.5 1176.7 L1481.5 1180.9 L1489.4 1185.1 L1497.4 1189 L1505.4 1192.8 L1513.4 1196.5 L1521.3 1200.1 L1529.3 1203.6 L1537.3 1207 L1545.2 1210.3 L1553.2 1213.6 L1561.2 1216.7 L1569.2 1219.8 L1577.1 1222.9 L1585.1 1225.9 L1593.1 1228.8 L1601 1231.7 L1609 1234.6 L1617 1237.4 L1625 1240.2 L1632.9 1242.9 L1640.9 1245.6 L1648.9 1248.3 L1656.8 1251 L1664.8 1253.6 L1672.8 1256.1 L1680.8 1258.7 L1688.7 1261.2 L1696.7 1263.7 L1704.7 1266.2 L1712.6 1268.7 L1720.6 1271.1 L1728.6 1273.5 L1736.6 1275.9 L1744.5 1278.3 L1752.5 1280.6 L1760.5 1282.9 L1768.5 1285.3 L1776.4 1287.6 L1784.4 1289.9 L1792.4 1292.1 L1800.3 1294.4 L1808.3 1296.6 L1816.3 1298.9 L1824.3 1301.1 L1832.2 1303.3 L1840.2 1305.5 L1848.2 1307.6 L1856.1 1309.8 L1864.1 1311.9 L1872.1 1314.1 L1880.1 1316.2 L1888 1318.3 L1896 1320.4" fill="none" stroke="#00a070" stroke-width="17" stroke-linejoin="round"/>
<path d="M146 1092.5 L154 1092.7 L162 1092.1 L170 1091.3 L178 1090.4 L186 1089.5 L193.9 1088.6 L201.9 1087.7 L209.9 1086.7 L217.9 1085.8 L225.9 1084.8 L233.9 1083.9 L241.9 1083 L249.9 1082.1 L257.9 1081.2 L265.9 1080.3 L273.9 1079.4 L281.8 1078.6 L289.8 1077.8 L297.8 1077 L305.8 1076.3 L313.8 1075.5 L321.8 1074.8 L329.8 1074.1 L337.8 1073.4 L345.8 1072.6 L353.8 1071.9 L361.8 1071.2 L369.7 1070.6 L377.7 1069.9 L385.7 1069.2 L393.7 1068.5 L401.7 1067.9 L409.7 1067.2 L417.7 1066.6 L425.7 1065.9 L433.7 1065.4 L441.7 1064.8 L449.7 1064.3 L457.6 1063.9 L465.6 1063.5 L473.6 1063 L481.6 1062.5 L489.6 1061.9 L497.6 1061.3 L505.6 1060.8 L513.6 1060.2 L521.6 1059.6 L529.6 1059.1 L537.6 1058.6 L545.5 1058.2 L553.5 1057.9 L561.5 1057.7 L569.5 1057.8 L577.5 1057.9 L585.5 1058 L593.5 1058.1 L601.5 1058.2 L609.5 1058.5 L617.5 1059.2 L625.5 1060.7 L633.4 1062 L641.4 1063.4 L649.4 1064.9 L657.4 1066.7 L665.4 1068.7 L673.4 1070.9 L681.4 1073.5 L689.4 1076.7 L697.4 1080.4 L705.4 1083.8 L713.4 1087.1 L721.3 1090.5 L729.3 1093.8 L737.3 1097.2 L745.3 1100.6 L753.3 1104.1 L761.3 1107.7 L769.3 1111.3 L777.3 1114.9 L785.3 1118.5 L793.3 1122.2 L801.3 1125.9 L809.2 1129.6 L817.2 1133.3 L825.2 1137 L833.2 1140.8 L841.2 1144.5 L849.2 1148.2 L857.2 1151.8 L865.2 1155.2 L873.2 1158.5 L881.2 1161.6 L889.2 1164.5 L897.1 1167.5 L905.1 1170.3 L913.1 1173.1 L921.1 1175.7 L929.1 1178.2 L937.1 1180.7 L945.1 1183.1 L953.1 1185.5 L961.1 1187.8 L969.1 1190.1 L977.1 1192.5 L985 1194.8 L993 1197 L1001 1199.3 L1009 1201.5 L1017 1203.7 L1025 1206 L1033 1208.2 L1041 1210.4 L1049 1212.5 L1057 1214.7 L1064.9 1216.8 L1072.9 1218.9 L1080.9 1220.9 L1088.9 1222.9 L1096.9 1224.8 L1104.9 1226.6 L1112.9 1228.4 L1120.9 1230 L1128.9 1231.7 L1136.9 1233.4 L1144.9 1235.2 L1152.8 1237.1 L1160.8 1239.1 L1168.8 1241 L1176.8 1242.9 L1184.8 1244.8 L1192.8 1246.6 L1200.8 1248.5 L1208.8 1250.3 L1216.8 1252.2 L1224.8 1254 L1232.8 1255.8 L1240.7 1257.7 L1248.7 1259.5 L1256.7 1261.3 L1264.7 1263.1 L1272.7 1264.9 L1280.7 1266.7 L1288.7 1268.4 L1296.7 1270.2 L1304.7 1272 L1312.7 1273.7 L1320.7 1275.5 L1328.6 1277.3 L1336.6 1279 L1344.6 1280.7 L1352.6 1282.5 L1360.6 1284.2 L1368.6 1285.9 L1376.6 1287.7 L1384.6 1289.4 L1392.6 1291.1 L1400.6 1292.8 L1408.6 1294.5 L1416.5 1296.2 L1424.5 1297.9 L1432.5 1299.6 L1440.5 1301.3 L1448.5 1303 L1456.5 1304.7 L1464.5 1306.4 L1472.5 1308.1 L1480.5 1309.8 L1488.5 1311.4 L1496.5 1313.1 L1504.4 1314.8 L1512.4 1316.4 L1520.4 1318.1 L1528.4 1319.8 L1536.4 1321.4 L1544.4 1323.1 L1552.4 1324.7 L1560.4 1326.4 L1568.4 1328 L1576.4 1329.7 L1584.4 1331.3 L1592.3 1333 L1600.3 1334.6 L1608.3 1336.2 L1616.3 1337.9 L1624.3 1339.5 L1632.3 1341.1 L1640.3 1342.8 L1648.3 1344.4 L1656.3 1346 L1664.3 1347.6 L1672.3 1349.3 L1680.2 1350.9 L1688.2 1352.5 L1696.2 1354.1 L1704.2 1355.7 L1712.2 1357.4 L1720.2 1359 L1728.2 1360.6 L1736.2 1362.2 L1744.2 1363.8 L1752.2 1365.4 L1760.2 1367 L1768.1 1368.6 L1776.1 1370.2 L1784.1 1371.8 L1792.1 1373.4 L1800.1 1375 L1808.1 1376.6 L1816.1 1378.2 L1824.1 1379.8 L1832.1 1381.4 L1840.1 1382.9 L1848.1 1384.5 L1856 1386.1 L1864 1387.7 L1872 1389.3 L1880 1390.9 L1888 1392.5 L1896 1394" fill="none" stroke="#ecdf00" stroke-width="14.5" stroke-linejoin="round"/>
<clipPath id="cd"><rect x="146" y="735" width="1748" height="719"/></clipPath>
<g clip-path="url(#cd)">
<rect x="654.8" y="728.3" width="8" height="38.5" rx="4" ry="5" fill="#000"/>
<rect x="654.8" y="805.6" width="8" height="38.5" rx="4" ry="5" fill="#000"/>
<rect x="654.8" y="883" width="8" height="38.5" rx="4" ry="5" fill="#000"/>
<rect x="654.8" y="960.4" width="8" height="38.5" rx="4" ry="5" fill="#000"/>
<rect x="654.8" y="1037.7" width="8" height="38.5" rx="4" ry="5" fill="#000"/>
<rect x="654.8" y="1115" width="8" height="38.5" rx="4" ry="5" fill="#000"/>
<rect x="654.8" y="1192.4" width="8" height="38.5" rx="4" ry="5" fill="#000"/>
<rect x="654.8" y="1269.8" width="8" height="38.5" rx="4" ry="5" fill="#000"/>
<rect x="654.8" y="1347.1" width="8" height="38.5" rx="4" ry="5" fill="#000"/>
<rect x="654.8" y="1424.4" width="8" height="38.5" rx="4" ry="5" fill="#000"/>
<rect x="1343.3" y="723.9" width="8" height="38.5" rx="4" ry="5" fill="#000"/>
<rect x="1343.3" y="801.2" width="8" height="38.5" rx="4" ry="5" fill="#000"/>
<rect x="1343.3" y="878.6" width="8" height="38.5" rx="4" ry="5" fill="#000"/>
<rect x="1343.3" y="956" width="8" height="38.5" rx="4" ry="5" fill="#000"/>
<rect x="1343.3" y="1033.3" width="8" height="38.5" rx="4" ry="5" fill="#000"/>
<rect x="1343.3" y="1110.7" width="8" height="38.5" rx="4" ry="5" fill="#000"/>
<rect x="1343.3" y="1188" width="8" height="38.5" rx="4" ry="5" fill="#000"/>
<rect x="1343.3" y="1265.3" width="8" height="38.5" rx="4" ry="5" fill="#000"/>
<rect x="1343.3" y="1342.7" width="8" height="38.5" rx="4" ry="5" fill="#000"/>
<rect x="1343.3" y="1420" width="8" height="38.5" rx="4" ry="5" fill="#000"/>
</g>
<rect x="149.5" y="1144.5" width="498.5" height="263" fill="url(#gh)" stroke="#3a3a3a" stroke-width="3"/>
<rect x="150" y="1402" width="32" height="5" fill="url(#gb)"/>
<rect x="227.2" y="1388.5" width="32" height="18.5" fill="url(#gb)"/>
<rect x="304.3" y="1337.5" width="32" height="69.5" fill="url(#gb)"/>
<rect x="342.9" y="1404" width="32" height="3" fill="url(#gb)"/>
<rect x="381.5" y="1157.5" width="32" height="249.5" fill="url(#gb)"/>
<rect x="458.7" y="1337.5" width="32" height="69.5" fill="url(#gb)"/>
<rect x="535.8" y="1389" width="32" height="18" fill="url(#gb)"/>
<rect x="613" y="1402.5" width="32" height="4.5" fill="url(#gb)"/>
<line x1="148" y1="1408" x2="649.5" y2="1408" stroke="#333" stroke-width="3"/>
<path d="M166 1403.5 L243.2 1390 L320.3 1339 L397.5 1159 L474.7 1339 L551.8 1390.5 L629 1404" fill="none" stroke="#ff1010" stroke-width="2.8"/>
<rect x="162.3" y="1400.8" width="7.5" height="5.5" fill="#fff" stroke="#ff1010" stroke-width="2.2"/>
<rect x="239.4" y="1387.2" width="7.5" height="5.5" fill="#fff" stroke="#ff1010" stroke-width="2.2"/>
<rect x="316.6" y="1336.2" width="7.5" height="5.5" fill="#fff" stroke="#ff1010" stroke-width="2.2"/>
<rect x="393.8" y="1156.2" width="7.5" height="5.5" fill="#fff" stroke="#ff1010" stroke-width="2.2"/>
<rect x="470.9" y="1336.2" width="7.5" height="5.5" fill="#fff" stroke="#ff1010" stroke-width="2.2"/>
<rect x="548.1" y="1387.8" width="7.5" height="5.5" fill="#fff" stroke="#ff1010" stroke-width="2.2"/>
<rect x="625.2" y="1401.2" width="7.5" height="5.5" fill="#fff" stroke="#ff1010" stroke-width="2.2"/>
<text x="166.5" y="1425" font-family='"Liberation Sans", Arial, sans-serif' font-size="18" font-weight="normal" fill="#4a4a4a" text-anchor="middle">1</text>
<text x="204.5" y="1425" font-family='"Liberation Sans", Arial, sans-serif' font-size="18" font-weight="normal" fill="#4a4a4a" text-anchor="middle">2</text>
<text x="242.5" y="1425" font-family='"Liberation Sans", Arial, sans-serif' font-size="18" font-weight="normal" fill="#4a4a4a" text-anchor="middle">3</text>
<text x="280.5" y="1425" font-family='"Liberation Sans", Arial, sans-serif' font-size="18" font-weight="normal" fill="#4a4a4a" text-anchor="middle">4</text>
<text x="318.5" y="1425" font-family='"Liberation Sans", Arial, sans-serif' font-size="18" font-weight="normal" fill="#4a4a4a" text-anchor="middle">5</text>
<text x="356.5" y="1425" font-family='"Liberation Sans", Arial, sans-serif' font-size="18" font-weight="normal" fill="#4a4a4a" text-anchor="middle">6</text>
<text x="394.5" y="1425" font-family='"Liberation Sans", Arial, sans-serif' font-size="18" font-weight="normal" fill="#4a4a4a" text-anchor="middle">7</text>
<text x="432.9" y="1425" font-family='"Liberation Sans", Arial, sans-serif' font-size="18" font-weight="normal" fill="#4a4a4a" text-anchor="middle">8</text>
<text x="471.3" y="1425" font-family='"Liberation Sans", Arial, sans-serif' font-size="18" font-weight="normal" fill="#4a4a4a" text-anchor="middle">9</text>
<text x="509.7" y="1425" font-family='"Liberation Sans", Arial, sans-serif' font-size="18" font-weight="normal" fill="#4a4a4a" text-anchor="middle">10</text>
<text x="548.1" y="1425" font-family='"Liberation Sans", Arial, sans-serif' font-size="18" font-weight="normal" fill="#4a4a4a" text-anchor="middle">11</text>
<text x="586.5" y="1425" font-family='"Liberation Sans", Arial, sans-serif' font-size="18" font-weight="normal" fill="#4a4a4a" text-anchor="middle">12</text>
<text x="624.9" y="1425" font-family='"Liberation Sans", Arial, sans-serif' font-size="18" font-weight="normal" fill="#4a4a4a" text-anchor="middle">13</text>
<line x1="150" y1="1275" x2="156" y2="1275" stroke="#222" stroke-width="2"/>
<rect x="155.5" y="1167" width="194.5" height="36" fill="#fff" stroke="#333" stroke-width="2.2"/>
<text x="156" y="1195" font-family='"Liberation Sans", Arial, sans-serif' font-size="21" font-weight="normal" fill="#3a3a3a" text-anchor="start" textLength="191" lengthAdjust="spacingAndGlyphs" font-style="italic" stroke="#3a3a3a" stroke-width="0.5">|Ψ<tspan font-size="15" dy="2">n</tspan><tspan dy="-2">|</tspan><tspan font-size="12" dy="-9">2</tspan><tspan dy="9">~ (c1/ c2)</tspan><tspan font-size="14" dy="-9" fill="#777" stroke="none">-|n-7|</tspan></text>
<rect x="146" y="1089" width="18" height="12" fill="#000"/>
<line x1="146" y1="853.8" x2="162" y2="853.8" stroke="#000" stroke-width="8" stroke-linecap="round"/>
<line x1="146" y1="1339" x2="162" y2="1339" stroke="#000" stroke-width="8" stroke-linecap="round"/>
<line x1="146" y1="974" x2="152" y2="974" stroke="#000" stroke-width="9" stroke-linecap="round"/>
<line x1="146" y1="1215.5" x2="152" y2="1215.5" stroke="#000" stroke-width="9" stroke-linecap="round"/>
<line x1="1019.8" y1="1454" x2="1019.8" y2="1436" stroke="#000" stroke-width="10" stroke-linecap="round"/>
<line x1="581" y1="1454" x2="581" y2="1446" stroke="#000" stroke-width="8" stroke-linecap="round"/>
<line x1="1458.5" y1="1454" x2="1458.5" y2="1446" stroke="#000" stroke-width="8" stroke-linecap="round"/>
<path d="M392 1454 a5 5 0 0 1 10 0" fill="none" stroke="#111" stroke-width="3"/>
<path d="M141 730 H1898.5 V1459.5 H141 Z" fill="none" stroke="#000" stroke-width="10" stroke-linejoin="round"/>
<line x1="136.5" y1="1459.5" x2="1903" y2="1459.5" stroke="#000" stroke-width="12"/>
<rect x="146" y="735" width="108.5" height="115" fill="#fff"/>
<text transform="translate(155.40 822.13) scale(0.8464 1)" font-family='"Liberation Sans", Arial, sans-serif' font-size="85.11" font-weight="bold" font-style="normal" fill="#000" >(d)</text>
<text transform="translate(331.29 898.74) scale(1.0406 1)" font-family='"Liberation Serif", "Times New Roman", serif' font-size="106.06" font-weight="normal" font-style="normal" fill="#000" stroke="#000" stroke-width="0.8">I</text>
<text transform="translate(887.33 972.72) scale(0.9246 1)" font-family='"Liberation Serif", "Times New Roman", serif' font-size="117.73" font-weight="normal" font-style="normal" fill="#000" stroke="#000" stroke-width="1.2">II</text>
<text transform="translate(1686.29 1122.99) scale(0.8975 1)" font-family='"Liberation Serif", "Times New Roman", serif' font-size="100.76" font-weight="normal" font-style="normal" fill="#000" stroke="#000" stroke-width="1.2">III</text>
</g>
<text transform="translate(78.61 859.67) scale(0.9106 1)" font-family='"Liberation Sans", Arial, sans-serif' font-size="32.86" font-weight="normal" font-style="normal" fill="#333" >1.5</text>
<text transform="translate(79.24 1103.68) scale(0.9178 1)" font-family='"Liberation Sans", Arial, sans-serif' font-size="31.69" font-weight="normal" font-style="normal" fill="#333" >0.0</text>
<text transform="translate(67.78 1347.17) scale(0.9279 1)" font-family='"Liberation Sans", Arial, sans-serif' font-size="32.86" font-weight="normal" font-style="normal" fill="#333" >-1.5</text>
<text transform="translate(132.67 1512.18) scale(1.0519 1)" font-family='"Liberation Sans", Arial, sans-serif' font-size="31.69" font-weight="normal" font-style="normal" fill="#333" >0</text>
<text transform="translate(1013.36 1512.00) scale(0.8202 1)" font-family='"Liberation Sans", Arial, sans-serif' font-size="32.61" font-weight="normal" font-style="normal" fill="#333" >1</text>
<text transform="translate(1886.65 1513.00) scale(1.1248 1)" font-family='"Liberation Sans", Arial, sans-serif' font-size="32.86" font-weight="normal" font-style="normal" fill="#333" >2</text>
<text transform="translate(1003.50 1583.32) scale(0.8309 1)" font-family='"Liberation Sans", Arial, sans-serif' font-size="77.03" font-weight="normal" font-style="normal" fill="#000" stroke="#000" stroke-width="1">γ</text>
<text transform="translate(53.80 1188.36) rotate(-90) scale(0.8247 1)" font-family='"Liberation Sans", Arial, sans-serif' font-size="53.33" font-weight="normal" font-style="normal" fill="#000" stroke="#000" stroke-width="0.5">Im (E)/<tspan font-style="italic">C</tspan></text>
<text transform="translate(81.70 1019.86) rotate(-90) scale(0.6977 1)" font-family='"Liberation Sans", Arial, sans-serif' font-size="33.33" font-weight="normal" font-style="normal" fill="#000" >1</text>
</svg>
</body></html>
